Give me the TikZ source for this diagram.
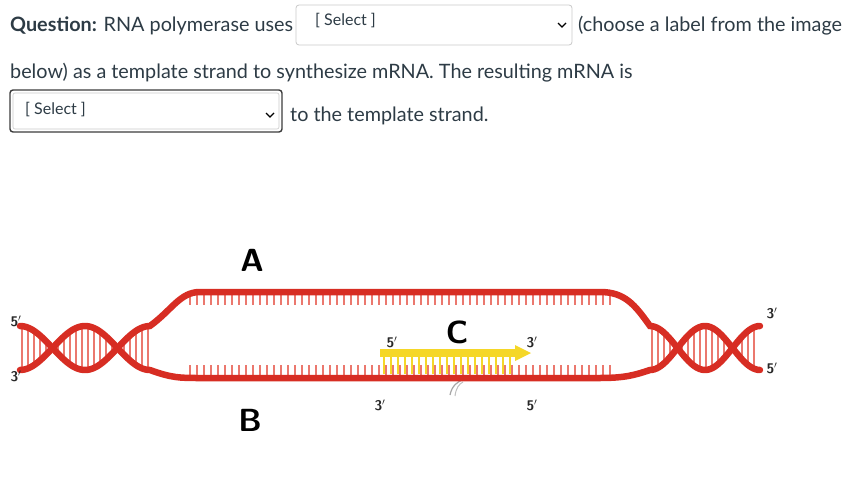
\documentclass[tikz,border=0pt]{standalone}
\usepackage{fontspec}
\setmainfont{Lato}
\definecolor{tc}{RGB}{45,59,69}
\definecolor{lc}{RGB}{40,40,40}
\definecolor{sr}{RGB}{215,45,35}
\definecolor{rr}{RGB}{235,120,110}
\definecolor{yy}{RGB}{245,215,40}
\definecolor{bd}{RGB}{200,200,200}
\definecolor{dk}{RGB}{60,60,60}
\begin{document}
\begin{tikzpicture}[x=1pt,y=-1pt,
  txt/.style={anchor=west,inner sep=0pt,font=\fontsize{19.8}{23}\selectfont,text=tc},
  sel/.style={anchor=west,inner sep=0pt,font=\fontsize{16}{19}\selectfont,text=tc},
  lab/.style={font=\sffamily\bfseries\fontsize{14}{16}\selectfont,text=lc},
  big/.style={font=\sffamily\bfseries\fontsize{32}{36}\selectfont},
  strand/.style={line width=6.5pt,draw=sr,line cap=round},
  rung/.style={line width=2.2pt,draw=rr},
  yrung/.style={line width=2.4pt,draw=yy}]
\useasboundingbox (0,0) rectangle (856,487);
\node[txt] (q) at (10,26) {\textbf{Question:} RNA polymerase uses};
\draw[draw=bd,rounded corners=3pt,line width=0.8pt] (296,5) rectangle (572,45);
\node[sel] (s1) at (315,21) {[ Select ]};
\draw[line width=1.3pt] (558,23) -- (562,27) -- (566,23);
\node[txt] (t1) at (578,26) {(choose a label from the image};
\node[txt] (t2) at (10,73) {below) as a template strand to synthesize mRNA. The resulting mRNA is};
\draw[draw=dk,rounded corners=3pt,line width=1.4pt] (10,90) rectangle (282,132);
\draw[draw=bd,rounded corners=2pt,line width=0.6pt] (13,93) rectangle (279,129);
\node[sel] (s2) at (25,110) {[ Select ]};
\draw[line width=1.3pt] (266,113) -- (270,117) -- (274,113);
\node[txt] (t3) at (290,116) {to the template strand.};
\foreach \x in {22,28,...,148} {
  \pgfmathsetmacro{\d}{20*cos(2.76923*(\x-20))}
  \draw[rung] (\x,348-\d) -- (\x,348+\d);
}
\foreach \x in {652,658,...,758} {
  \pgfmathsetmacro{\d}{20*cos(3.27273*(\x-650))}
  \draw[rung] (\x,348-\d) -- (\x,348+\d);
}
\foreach \x in {190,197,...,610} {
  \draw[rung] (\x,293) -- (\x,305);
  \draw[rung] (\x,365) -- (\x,377);
}
\foreach \x in {384,391,...,512} { \draw[yrung] (\x,357) -- (\x,374); }
\fill[yy] (380,349) rectangle (515,357);
\fill[yy] (515,345) -- (531,353) -- (515,361) -- cycle;
\draw[gray!70,line width=1.2pt] (450,395) .. controls (452,385) and (458,382) .. (462,380);
\draw[gray!50,line width=1pt] (455,396) .. controls (456,388) and (459,384) .. (463,382);
\draw[strand] plot[domain=0:1,samples=60] ({20+130*\x},{348-22*cos(360*\x)})
  .. controls (172,310) and (180,292) .. (200,292) -- (600,292)
  .. controls (625,292) and (635,305) .. (650,326)
  -- plot[domain=0:1,samples=50] ({650+110*\x},{348-22*cos(360*\x)});
\draw[strand] plot[domain=0:1,samples=60] ({20+130*\x},{348+22*cos(360*\x)})
  .. controls (172,378) and (180,378) .. (200,378) -- (600,378)
  .. controls (625,378) and (635,375) .. (650,370)
  -- plot[domain=0:1,samples=50] ({650+110*\x},{348+22*cos(360*\x)});
\node[big] (A) at (252,260) {A};
\node[big] (B) at (250,420) {B};
\node[big] (C) at (457,332) {C};
\node[lab] (l1) at (16,321) {5$'$};
\node[lab] (l2) at (16,376) {3$'$};
\node[lab] (l3) at (772,313) {3$'$};
\node[lab] (l4) at (772,368) {5$'$};
\node[lab] (l5) at (392,342) {5$'$};
\node[lab] (l6) at (532,342) {3$'$};
\node[lab] (l7) at (380,405) {3$'$};
\node[lab] (l8) at (532,405) {5$'$};
\end{tikzpicture}
\end{document}
